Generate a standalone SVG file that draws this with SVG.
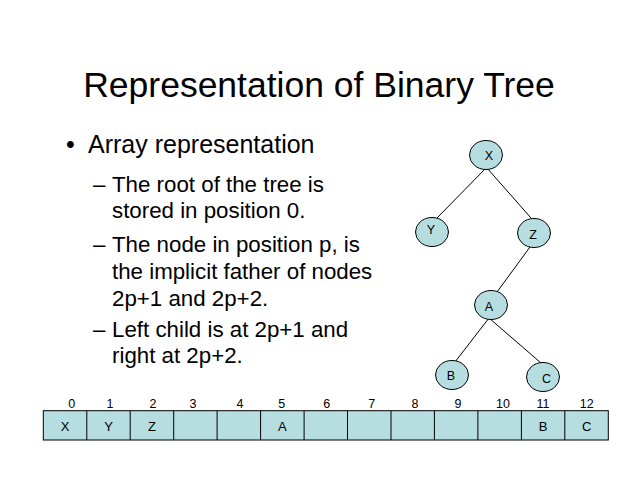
<svg xmlns="http://www.w3.org/2000/svg" width="638" height="493" viewBox="0 0 638 493">
<style>
.t{font-family:"Liberation Sans",Arial,sans-serif;fill:#000}
.n{fill:#B6DDE0;stroke:#000;stroke-width:1}
.e{stroke:#000;stroke-width:1;fill:none}
.c{fill:#B6DDE0;stroke:#000;stroke-width:1}
</style>
<rect width="638" height="493" fill="#fff"/>
<text class="t" x="319" y="97" font-size="35.5" text-anchor="middle">Representation of Binary Tree</text>
<g id="text" class="t">
<text x="66" y="153" font-size="25">•</text>
<text x="88" y="153" font-size="25">Array representation</text>
<g font-size="22.3">
<text x="93" y="192">–</text><text x="112" y="192">The root of the tree is</text>
<text x="112" y="218">stored in position 0.</text>
<text x="93" y="252">–</text><text x="112" y="252">The node in position p, is</text>
<text x="112" y="279">the implicit father of nodes</text>
<text x="112" y="306">2p+1 and 2p+2.</text>
<text x="93" y="337">–</text><text x="112" y="337">Left child is at 2p+1 and</text>
<text x="112" y="363">right at 2p+2.</text>
</g>
</g>
<g id="connectors">
<line class="e" x1="486" y1="168" x2="437" y2="218"/>
<line class="e" x1="487" y1="168" x2="531" y2="218"/>
<line class="e" x1="530" y1="247" x2="497" y2="292"/>
<line class="e" x1="489" y1="318" x2="455" y2="362"/>
<line class="e" x1="489" y1="318" x2="541" y2="363"/>
</g>
<g id="node-X"><ellipse class="n" cx="486" cy="155" rx="16.5" ry="14.5"/><text class="t" x="489" y="160" font-size="12.5" text-anchor="middle">X</text></g>
<g id="node-Y"><ellipse class="n" cx="432" cy="232" rx="16.5" ry="14.5"/><text class="t" x="431" y="233.5" font-size="12.5" text-anchor="middle">Y</text></g>
<g id="node-Z"><ellipse class="n" cx="534" cy="233" rx="16.5" ry="14.5"/><text class="t" x="533" y="238.5" font-size="12.5" text-anchor="middle">Z</text></g>
<g id="node-A"><ellipse class="n" cx="491" cy="305" rx="16.5" ry="14.5"/><text class="t" x="489" y="311" font-size="12.5" text-anchor="middle">A</text></g>
<g id="node-B"><ellipse class="n" cx="452" cy="375" rx="16.5" ry="14.5"/><text class="t" x="451" y="380" font-size="12.5" text-anchor="middle">B</text></g>
<g id="node-C"><ellipse class="n" cx="543" cy="377" rx="16.5" ry="14.5"/><text class="t" x="546.5" y="382.5" font-size="12.5" text-anchor="middle">C</text></g>
<g id="array">
<rect class="c" x="43.3" y="410.7" width="565" height="29.3"/>
<g class="e">
<line x1="86.8" y1="410.7" x2="86.8" y2="440"/>
<line x1="130.2" y1="410.7" x2="130.2" y2="440"/>
<line x1="173.7" y1="410.7" x2="173.7" y2="440"/>
<line x1="217.1" y1="410.7" x2="217.1" y2="440"/>
<line x1="260.6" y1="410.7" x2="260.6" y2="440"/>
<line x1="304.1" y1="410.7" x2="304.1" y2="440"/>
<line x1="347.5" y1="410.7" x2="347.5" y2="440"/>
<line x1="391" y1="410.7" x2="391" y2="440"/>
<line x1="434.4" y1="410.7" x2="434.4" y2="440"/>
<line x1="477.9" y1="410.7" x2="477.9" y2="440"/>
<line x1="521.4" y1="410.7" x2="521.4" y2="440"/>
<line x1="564.8" y1="410.7" x2="564.8" y2="440"/>
</g>
<g class="t" font-size="13" text-anchor="middle">
<text x="65" y="430.5">X</text>
<text x="108.7" y="430.5">Y</text>
<text x="152" y="430.5">Z</text>
<text x="282.3" y="430.5">A</text>
<text x="543.1" y="430.5">B</text>
<text x="586.6" y="430.5">C</text>
</g>
<g class="t" font-size="12.5" text-anchor="middle">
<text x="71.7" y="408">0</text>
<text x="110" y="408">1</text>
<text x="153" y="408">2</text>
<text x="193" y="408">3</text>
<text x="240" y="408">4</text>
<text x="281.7" y="408">5</text>
<text x="326.7" y="408">6</text>
<text x="371.7" y="408">7</text>
<text x="415" y="408">8</text>
<text x="458" y="408">9</text>
<text x="503" y="408">10</text>
<text x="543" y="408">11</text>
<text x="586.7" y="408">12</text>
</g>
</g>
</svg>
